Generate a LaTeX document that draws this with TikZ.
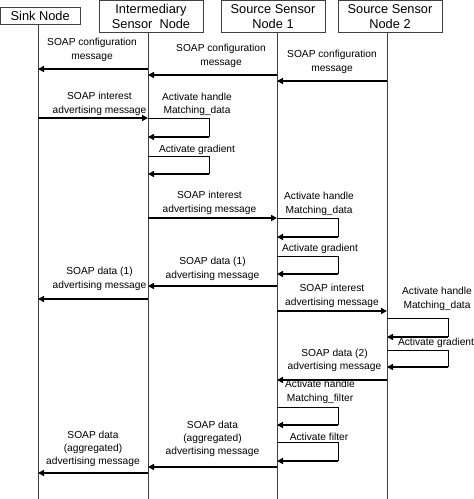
\documentclass[tikz,border=0pt]{standalone}
\usepackage{fontspec}
\setmainfont{Liberation Sans}
\usetikzlibrary{arrows.meta}
\begin{document}
\begin{tikzpicture}[x=1pt,y=-1pt,
  head/.style={draw=black!75, line width=0.8pt, align=center, inner sep=0pt,
    font=\fontsize{12.8}{15}\selectfont},
  life/.style={draw=black!75, line width=0.8pt},
  msg/.style={draw=black, line width=1.5pt, -{Triangle[length=6pt,width=6pt]}},
  bigmsg/.style={msg, line width=2pt},
  lp/.style={draw=black, line width=0.8pt},
  lbl/.style={align=center, inner sep=0pt, font=\fontsize{10.2}{13.5}\selectfont},
  lbl3/.style={align=center, inner sep=0pt, font=\fontsize{10.2}{13}\selectfont}]
\useasboundingbox (0,0) rectangle (474,499);
\fill[white] (0,0) rectangle (474,499);

% headers
\node[head, minimum width=79.5pt, minimum height=17pt] (sink) at (40.2,15.5) {Sink Node};
\node[head, minimum width=104pt, minimum height=32.5pt] (inter) at (151,16.6) {Intermediary\\Sensor\ \ Node};
\node[head, minimum width=104pt, minimum height=32.5pt] (src1) at (273,16.6) {Source Sensor\\Node 1};
\node[head, minimum width=104pt, minimum height=32.5pt] (src2) at (390,16.6) {Source Sensor\\Node 2};

% lifelines
\coordinate (L1t) at (38,24);  \coordinate (L1b) at (38,499);
\coordinate (L2t) at (148,33); \coordinate (L2b) at (148,499);
\coordinate (L3t) at (277,33); \coordinate (L3b) at (277,499);
\coordinate (L4t) at (387,33); \coordinate (L4b) at (387,499);
\draw[life] (L1t) -- (L1b);
\draw[life] (L2t) -- (L2b);
\draw[life] (L3t) -- (L3b);
\draw[life] (L4t) -- (L4b);

% 1 config Int -> Sink
\coordinate (m1a) at (148,69); \coordinate (m1b) at (38,69);
\draw[msg] (m1a) -- (m1b);
\node[lbl] (t1) at (92,50) {SOAP configuration\\message};
% 2 config S1 -> Int
\coordinate (m2a) at (277,75); \coordinate (m2b) at (148,75);
\draw[msg] (m2a) -- (m2b);
\node[lbl] (t2) at (221,56) {SOAP configuration\\message};
% 3 config S2 -> S1
\coordinate (m3a) at (387,81); \coordinate (m3b) at (277,81);
\draw[bigmsg] (m3a) -- (m3b);
\node[lbl] (t3) at (332,62) {SOAP configuration\\message};

% 4 interest Sink -> Int
\coordinate (m4a) at (38,118); \coordinate (m4b) at (148,118);
\draw[msg] (m4a) -- (m4b);
\node[lbl] (t4) at (99.5,104) {SOAP interest\\advertising message};

% 5 Int loop handle
\coordinate (s5a) at (148,118); \coordinate (s5b) at (209,118);
\coordinate (s5c) at (209,137); \coordinate (s5d) at (148,137);
\draw[lp] (s5a) -- (s5b) -- (s5c);
\draw[msg] (s5c) -- (s5d);
\node[lbl] (t5) at (197,104.5) {Activate handle\\Matching\_data};
% 6 Int loop gradient
\coordinate (s6a) at (148,156); \coordinate (s6b) at (209,156);
\coordinate (s6c) at (209,174); \coordinate (s6d) at (148,174);
\draw[lp] (s6a) -- (s6b) -- (s6c);
\draw[msg] (s6c) -- (s6d);
\node[lbl] (t6) at (197,150) {Activate gradient};

% 7 interest Int -> S1
\coordinate (m7a) at (148,218); \coordinate (m7b) at (277,218);
\draw[msg] (m7a) -- (m7b);
\node[lbl] (t7) at (209.5,203) {SOAP interest\\advertising message};

% 8 S1 loop handle
\coordinate (s8a) at (277,218); \coordinate (s8b) at (338,218);
\coordinate (s8c) at (338,237); \coordinate (s8d) at (277,237);
\draw[lp] (s8a) -- (s8b) -- (s8c);
\draw[msg] (s8c) -- (s8d);
\node[lbl] (t8) at (319,204) {Activate handle\\Matching\_data};
% 9 S1 loop gradient
\coordinate (s9a) at (277,256); \coordinate (s9b) at (338,256);
\coordinate (s9c) at (338,274); \coordinate (s9d) at (277,274);
\draw[lp] (s9a) -- (s9b) -- (s9c);
\draw[msg] (s9c) -- (s9d);
\node[lbl] (t9) at (320,249) {Activate gradient};

% 10 data1 S1 -> Int
\coordinate (m10a) at (277,286); \coordinate (m10b) at (148,286);
\draw[msg] (m10a) -- (m10b);
\node[lbl] (t10) at (212.5,269) {SOAP data (1)\\advertising message};
% 11 data1 Int -> Sink
\coordinate (m11a) at (148,299); \coordinate (m11b) at (38,299);
\draw[msg] (m11a) -- (m11b);
\node[lbl] (t11) at (99.5,279) {SOAP data (1)\\advertising message};

% 12 interest S1 -> S2
\coordinate (m12a) at (277,311); \coordinate (m12b) at (387,311);
\draw[msg] (m12a) -- (m12b);
\node[lbl] (t12) at (332,296) {SOAP interest\\advertising message};

% 13 S2 loop handle
\coordinate (s13a) at (387,318); \coordinate (s13b) at (448,318);
\coordinate (s13c) at (448,337); \coordinate (s13d) at (387,337);
\draw[lp] (s13a) -- (s13b) -- (s13c);
\draw[msg] (s13c) -- (s13d);
\node[lbl] (t13) at (437,299) {Activate handle\\Matching\_data};
% 14 S2 loop gradient
\coordinate (s14a) at (387,350); \coordinate (s14b) at (448,350);
\coordinate (s14c) at (448,367); \coordinate (s14d) at (387,367);
\draw[lp] (s14a) -- (s14b) -- (s14c);
\draw[msg] (s14c) -- (s14d);
\node[lbl] (t14) at (436,343) {Activate gradient};

% 15 data2 S2 -> S1
\coordinate (m15a) at (387,380); \coordinate (m15b) at (277,380);
\draw[msg] (m15a) -- (m15b);
\node[lbl] (t15) at (334.5,360.5) {SOAP data (2)\\advertising message};

% 16 S1 loop handle filter
\coordinate (s16a) at (277,407); \coordinate (s16b) at (338,407);
\coordinate (s16c) at (338,425); \coordinate (s16d) at (277,425);
\draw[lp] (s16a) -- (s16b) -- (s16c);
\draw[msg] (s16c) -- (s16d);
\node[lbl] (t16) at (320,392) {Activate handle\\Matching\_filter};
% 17 S1 loop filter
\coordinate (s17a) at (277,442); \coordinate (s17b) at (338,442);
\coordinate (s17c) at (338,461); \coordinate (s17d) at (277,461);
\draw[lp] (s17a) -- (s17b) -- (s17c);
\draw[msg] (s17c) -- (s17d);
\node[lbl] (t17) at (319,437) {Activate filter};

% 18 aggregated S1 -> Int
\coordinate (m18a) at (277,467); \coordinate (m18b) at (148,467);
\draw[msg] (m18a) -- (m18b);
\node[lbl3] (t18) at (212.5,438.5) {SOAP data\\(aggregated)\\advertising message};
% 19 aggregated Int -> Sink
\coordinate (m19a) at (148,473); \coordinate (m19b) at (38,473);
\draw[msg] (m19a) -- (m19b);
\node[lbl3] (t19) at (93,449) {SOAP data\\(aggregated)\\advertising message};
\end{tikzpicture}
\end{document}
